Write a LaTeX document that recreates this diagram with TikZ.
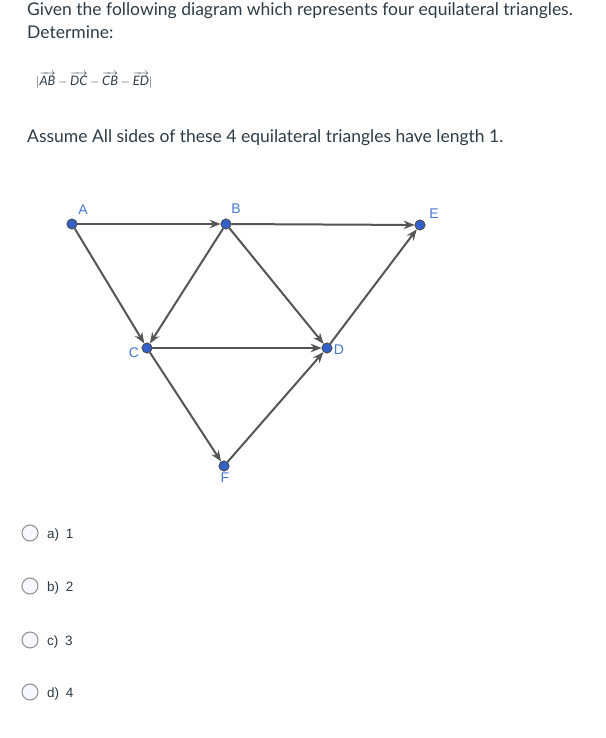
\documentclass[tikz,border=0pt]{standalone}
\usepackage{amsmath}
\usepackage{fontspec}
\setmainfont{Lato}
\newfontfamily\labelfont{Liberation Sans}
\usepackage{tikz}
\usetikzlibrary{positioning,arrows.meta,calc}
\definecolor{ptblue}{RGB}{52,96,200}
\definecolor{lblblue}{RGB}{70,120,210}
\definecolor{edgegray}{RGB}{85,85,85}
\definecolor{txtgray}{RGB}{45,59,69}
\tikzset{
  pt/.style={circle, fill=ptblue, draw=black!70, line width=0.7pt, inner sep=0pt, minimum size=10pt},
  vec/.style={draw=edgegray, line width=2pt, -{Stealth[length=11pt,width=8.5pt]}},
  ptlabel/.style={text=lblblue, font=\labelfont\fontsize{14}{16}\selectfont, inner sep=0pt},
  qtext/.style={anchor=base west, inner sep=0pt, text=txtgray, font=\fontsize{17.5}{20}\selectfont},
  radio/.style={circle, draw=black!45, fill=blue!3, line width=1pt, minimum size=16pt, inner sep=0pt},
  choice/.style={anchor=base west, inner sep=0pt, text=txtgray, font=\labelfont\fontsize{13.5}{16}\selectfont},
}
\begin{document}
\begin{tikzpicture}[x=1pt, y=-1pt]
    \useasboundingbox (0,0) rectangle (605,738);
    % question text
    \node[qtext] (q1) at (27,16) {Given the following diagram which represents four equilateral triangles.};
    \node[qtext] (q2) at (27,39) {Determine:};
    \node[qtext, font=\fontsize{13}{15}\selectfont] (expr) at (36,86)
      {$\lvert\overrightarrow{\textit{AB}}-\overrightarrow{\textit{DC}}-\overrightarrow{\textit{CB}}-\overrightarrow{\textit{ED}}\rvert$};
    \node[qtext] (q3) at (27,143) {Assume All sides of these 4 equilateral triangles have length 1.};
    % points
    \node[pt] (A) at (72,224) {};
    \node[pt] (B) at (226,224) {};
    \node[pt] (E) at (420,225) {};
    \node[pt] (C) at (147,348) {};
    \node[pt] (D) at (327,348) {};
    \node[pt] (F) at (224,466) {};
    % vectors
    \draw[vec] (A) -- (B);
    \draw[vec] (B) -- (E);
    \draw[vec] (A) -- (C);
    \draw[vec] (B) -- (C);
    \draw[vec] (B) -- (D);
    \draw[vec] (C) -- (D);
    \draw[vec] (D) -- (E);
    \draw[vec] (C) -- (F);
    \draw[vec] (F) -- (D);
    % redraw points on top
    \foreach \p in {A,B,C,D,E,F} \node[pt] at (\p) {};
    % labels
    \node[ptlabel] (lA) at (83,210) {A};
    \node[ptlabel] (lB) at (236,209) {B};
    \node[ptlabel] (lE) at (434,214) {E};
    \node[ptlabel] (lC) at (134,353) {C};
    \node[ptlabel] (lD) at (339,350) {D};
    \node[ptlabel] (lF) at (225,478) {F};
    % answer choices
    \foreach \y/\t [count=\i] in {533/a)\enspace 1, 586/b)\enspace 2, 640/c)\enspace 3, 692/d)\enspace 4} {
      \node[radio] (r\i) at (30,\y) {};
      \node[choice] (c\i) at (47,\y+5) {\t};
    }
\end{tikzpicture}
\end{document}
